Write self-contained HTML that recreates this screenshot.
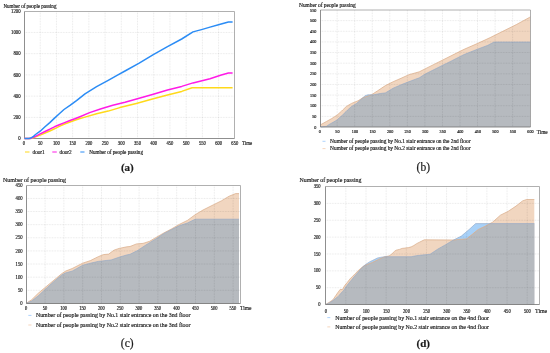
<!DOCTYPE html>
<html lang="en">
<head>
<meta charset="utf-8">
<title>Number of people passing</title>
<style>
html,body{margin:0;padding:0;background:#fff;}
body{width:550px;height:353px;overflow:hidden;}
svg{display:block;filter:blur(0.35px);font-family:"Liberation Serif",serif;fill:#1a1a1a;}
svg text{fill:#1a1a1a;stroke:#1a1a1a;stroke-width:0.18;}
.g{stroke:#000000;stroke-opacity:0.17;stroke-width:0.6;stroke-dasharray:0.8 0.8;}
</style>
</head>
<body>
<svg width="550" height="353" viewBox="0 0 550 353">
<rect width="550" height="353" fill="#ffffff"/>
<line x1="40.22" y1="11.5" x2="40.22" y2="138.5" class="g"/>
<line x1="56.43" y1="11.5" x2="56.43" y2="138.5" class="g"/>
<line x1="72.65" y1="11.5" x2="72.65" y2="138.5" class="g"/>
<line x1="88.86" y1="11.5" x2="88.86" y2="138.5" class="g"/>
<line x1="105.08" y1="11.5" x2="105.08" y2="138.5" class="g"/>
<line x1="121.29" y1="11.5" x2="121.29" y2="138.5" class="g"/>
<line x1="137.51" y1="11.5" x2="137.51" y2="138.5" class="g"/>
<line x1="153.72" y1="11.5" x2="153.72" y2="138.5" class="g"/>
<line x1="169.94" y1="11.5" x2="169.94" y2="138.5" class="g"/>
<line x1="186.15" y1="11.5" x2="186.15" y2="138.5" class="g"/>
<line x1="202.37" y1="11.5" x2="202.37" y2="138.5" class="g"/>
<line x1="218.58" y1="11.5" x2="218.58" y2="138.5" class="g"/>
<line x1="24.5" y1="117.37" x2="234.5" y2="117.37" class="g"/>
<line x1="24.5" y1="96.13" x2="234.5" y2="96.13" class="g"/>
<line x1="24.5" y1="74.90" x2="234.5" y2="74.90" class="g"/>
<line x1="24.5" y1="53.67" x2="234.5" y2="53.67" class="g"/>
<line x1="24.5" y1="32.43" x2="234.5" y2="32.43" class="g"/>
<path d="M24.5 11.5H234.5V138.5" fill="none" stroke="#9c9c9c" stroke-width="0.8"/><path d="M24.5 11.5V138.5H234.5" fill="none" stroke="#727272" stroke-width="0.8"/>
<polyline points="24.5,138.5 30.0,138.4 31.9,138.3 35.5,136.9 40.2,135.1 45.0,133.0 49.8,131.0 54.5,128.8 59.3,126.4 64.0,124.2 70.0,122.0 74.8,120.2 80.0,118.5 85.0,117.1 96.6,113.8 108.2,111.1 119.8,107.6 136.3,103.4 153.3,98.7 167.5,95.1 181.7,91.4 192.1,87.7 232.6,87.7" fill="none" stroke="#ffd91a" stroke-width="1.5" stroke-linejoin="round"/>
<polyline points="24.5,138.5 30.0,138.4 31.9,137.9 35.5,136.3 40.2,133.9 45.0,131.5 49.8,129.2 54.5,126.8 59.3,124.8 64.0,122.9 70.0,120.5 74.8,118.8 80.0,116.7 89.6,112.6 101.2,108.7 112.8,105.3 125.0,102.3 139.2,98.3 153.3,94.2 167.5,90.0 181.7,86.4 193.0,82.9 210.0,78.7 221.3,75.0 228.4,73.0 232.6,73.0" fill="none" stroke="#ff1ae6" stroke-width="1.5" stroke-linejoin="round"/>
<polyline points="24.5,138.5 29.0,138.4 30.7,138.1 33.1,136.7 35.5,134.5 40.2,131.2 45.0,126.8 49.8,122.6 54.5,118.1 59.3,113.7 64.0,109.5 70.0,105.4 76.5,100.6 85.0,93.8 96.6,86.7 108.2,80.4 117.5,75.1 125.0,71.0 139.2,63.1 153.3,54.6 167.5,46.6 181.7,39.0 193.0,31.9 201.5,29.6 210.0,27.1 218.5,24.8 228.4,22.0 232.6,22.0" fill="none" stroke="#2b8cf5" stroke-width="1.5" stroke-linejoin="round"/>
<text transform="translate(3.40 7.60) scale(0.88 1)" font-size="5.74" text-anchor="start" font-weight="normal" >Number of people passing</text>
<text transform="translate(20.60 140.30) scale(0.88 1)" font-size="5.45" text-anchor="end" font-weight="normal" >0</text>
<text transform="translate(20.60 119.07) scale(0.88 1)" font-size="5.45" text-anchor="end" font-weight="normal" >200</text>
<text transform="translate(20.60 97.83) scale(0.88 1)" font-size="5.45" text-anchor="end" font-weight="normal" >400</text>
<text transform="translate(20.60 76.60) scale(0.88 1)" font-size="5.45" text-anchor="end" font-weight="normal" >600</text>
<text transform="translate(20.60 55.37) scale(0.88 1)" font-size="5.45" text-anchor="end" font-weight="normal" >800</text>
<text transform="translate(20.60 34.13) scale(0.88 1)" font-size="5.45" text-anchor="end" font-weight="normal" >1000</text>
<text transform="translate(20.60 12.90) scale(0.88 1)" font-size="5.45" text-anchor="end" font-weight="normal" >1200</text>
<text transform="translate(24.00 145.40) scale(0.88 1)" font-size="5.23" text-anchor="middle" font-weight="normal" >0</text>
<text transform="translate(40.22 145.40) scale(0.88 1)" font-size="5.23" text-anchor="middle" font-weight="normal" >50</text>
<text transform="translate(56.43 145.40) scale(0.88 1)" font-size="5.23" text-anchor="middle" font-weight="normal" >100</text>
<text transform="translate(72.65 145.40) scale(0.88 1)" font-size="5.23" text-anchor="middle" font-weight="normal" >150</text>
<text transform="translate(88.86 145.40) scale(0.88 1)" font-size="5.23" text-anchor="middle" font-weight="normal" >200</text>
<text transform="translate(105.08 145.40) scale(0.88 1)" font-size="5.23" text-anchor="middle" font-weight="normal" >250</text>
<text transform="translate(121.29 145.40) scale(0.88 1)" font-size="5.23" text-anchor="middle" font-weight="normal" >300</text>
<text transform="translate(137.51 145.40) scale(0.88 1)" font-size="5.23" text-anchor="middle" font-weight="normal" >350</text>
<text transform="translate(153.72 145.40) scale(0.88 1)" font-size="5.23" text-anchor="middle" font-weight="normal" >400</text>
<text transform="translate(169.94 145.40) scale(0.88 1)" font-size="5.23" text-anchor="middle" font-weight="normal" >450</text>
<text transform="translate(186.15 145.40) scale(0.88 1)" font-size="5.23" text-anchor="middle" font-weight="normal" >500</text>
<text transform="translate(202.37 145.40) scale(0.88 1)" font-size="5.23" text-anchor="middle" font-weight="normal" >550</text>
<text transform="translate(218.58 145.40) scale(0.88 1)" font-size="5.23" text-anchor="middle" font-weight="normal" >600</text>
<text transform="translate(234.80 145.40) scale(0.88 1)" font-size="5.23" text-anchor="middle" font-weight="normal" >650</text>
<text transform="translate(242.00 145.30) scale(0.88 1)" font-size="5.57" text-anchor="start" font-weight="normal" >Time</text>
<line x1="25" y1="152" x2="29.5" y2="152" stroke="#ffd91a" stroke-width="1"/>
<text transform="translate(32.60 153.50) scale(0.88 1)" font-size="5.91" text-anchor="start" font-weight="normal" >door1</text>
<line x1="52.3" y1="152" x2="56.8" y2="152" stroke="#ff1ae6" stroke-width="1"/>
<text transform="translate(59.60 153.50) scale(0.88 1)" font-size="5.91" text-anchor="start" font-weight="normal" >door2</text>
<line x1="80.3" y1="152" x2="84.5" y2="152" stroke="#2b8cf5" stroke-width="1"/>
<text transform="translate(89.30 153.50) scale(0.88 1)" font-size="5.8" text-anchor="start" font-weight="normal" >Number of people passing</text>
<text x="127.30" y="171.20" font-size="11" text-anchor="middle" font-weight="bold" >(a)</text>
<polygon points="320.5,126.9 326.4,126.4 329.6,124.2 334.0,121.8 337.3,119.8 339.5,117.6 342.7,114.9 346.0,111.6 347.6,110.0 351.5,106.5 356.7,103.4 363.2,97.4 365.5,95.5 368.0,94.8 373.7,94.8 380.2,93.5 385.4,92.9 393.2,88.2 401.0,84.8 408.9,81.7 419.3,77.8 425.0,74.1 438.0,67.6 451.1,61.1 464.1,54.5 477.2,49.3 487.6,45.4 494.1,42.0 530.6,42.0 530.6,127.0 320.5,127.0" fill="#a8d1f8"/>
<polygon points="320.5,124.8 326.4,121.5 331.8,118.5 337.3,114.9 341.6,111.1 342.7,110.0 346.3,106.5 351.5,103.4 358.0,100.8 363.2,97.6 367.0,96.3 371.5,94.8 377.6,90.8 385.4,85.6 393.2,81.7 401.0,78.3 408.9,74.7 419.3,71.8 425.0,68.9 438.0,62.4 451.1,55.8 464.1,49.3 477.2,43.6 490.2,37.6 503.2,31.1 516.3,24.6 529.3,17.5 530.6,16.7 530.6,127.0 320.5,127.0" fill="#f1d6c0"/>
<polygon points="320.5,126.9 321.0,126.9 321.5,126.8 322.0,126.8 322.5,126.7 323.0,126.7 323.5,126.6 324.0,126.6 324.5,126.6 325.0,126.5 325.5,126.5 326.0,126.4 326.5,126.3 327.0,126.0 327.5,125.6 328.0,125.3 328.5,125.0 329.0,124.6 329.5,124.3 330.0,124.0 330.5,123.7 331.0,123.4 331.5,123.2 332.0,122.9 332.5,122.6 333.0,122.3 333.5,122.1 334.0,121.8 334.5,121.5 335.0,121.2 335.5,120.9 336.0,120.6 336.5,120.3 337.0,120.0 337.5,119.6 338.0,119.1 338.5,118.6 339.0,118.1 339.5,117.6 340.0,117.2 340.5,116.7 341.0,116.3 341.5,115.9 342.0,115.5 342.5,115.1 343.0,114.6 343.5,114.1 344.0,113.6 344.5,113.1 345.0,112.6 345.5,112.1 346.0,111.6 346.5,111.1 347.0,110.6 347.5,110.1 348.0,109.6 348.5,109.2 349.0,108.7 349.5,108.3 350.0,107.8 350.5,107.4 351.0,106.9 351.5,106.5 352.0,106.2 352.5,105.9 353.0,105.6 353.5,105.3 354.0,105.0 354.5,104.7 355.0,104.4 355.5,104.1 356.0,103.8 356.5,103.5 357.0,103.1 357.5,102.6 358.0,102.2 358.5,101.7 359.0,101.3 359.5,100.8 360.0,100.3 360.5,99.9 361.0,99.4 361.5,99.0 362.0,98.5 362.5,98.0 363.0,97.7 363.5,97.5 364.0,97.3 364.5,97.1 365.0,97.0 365.5,96.8 366.0,96.6 366.5,96.5 367.0,96.3 367.5,96.1 368.0,96.0 368.5,95.8 369.0,95.6 369.5,95.5 370.0,95.3 370.5,95.1 371.0,95.0 371.5,94.8 372.0,94.8 372.5,94.8 373.0,94.8 373.5,94.8 374.0,94.7 374.5,94.6 375.0,94.5 375.5,94.4 376.0,94.3 376.5,94.2 377.0,94.1 377.5,94.0 378.0,93.9 378.5,93.8 379.0,93.7 379.5,93.6 380.0,93.5 380.5,93.5 381.0,93.4 381.5,93.3 382.0,93.3 382.5,93.2 383.0,93.2 383.5,93.1 384.0,93.1 384.5,93.0 385.0,92.9 385.5,92.8 386.0,92.5 386.5,92.2 387.0,91.9 387.5,91.6 388.0,91.3 388.5,91.0 389.0,90.7 389.5,90.4 390.0,90.1 390.5,89.8 391.0,89.5 391.5,89.2 392.0,88.9 392.5,88.6 393.0,88.3 393.5,88.1 394.0,87.8 394.5,87.6 395.0,87.4 395.5,87.2 396.0,87.0 396.5,86.7 397.0,86.5 397.5,86.3 398.0,86.1 398.5,85.9 399.0,85.7 399.5,85.4 400.0,85.2 400.5,85.0 401.0,84.8 401.5,84.6 402.0,84.4 402.5,84.2 403.0,84.0 403.5,83.8 404.0,83.6 404.5,83.4 405.0,83.2 405.5,83.0 406.0,82.8 406.5,82.6 407.0,82.4 407.5,82.2 408.0,82.0 408.5,81.8 409.0,81.6 409.5,81.5 410.0,81.3 410.5,81.1 411.0,80.9 411.5,80.7 412.0,80.5 412.5,80.3 413.0,80.1 413.5,80.0 414.0,79.8 414.5,79.6 415.0,79.4 415.5,79.2 416.0,79.0 416.5,78.8 417.0,78.6 417.5,78.5 418.0,78.3 418.5,78.1 419.0,77.9 419.5,77.6 420.0,77.3 420.5,77.0 421.0,76.7 421.5,76.3 422.0,76.0 422.5,75.7 423.0,75.4 423.5,75.0 424.0,74.7 424.5,74.4 425.0,74.1 425.6,73.8 426.1,73.6 426.6,73.3 427.1,73.1 427.6,72.8 428.1,72.6 428.6,72.3 429.1,72.1 429.6,71.8 430.1,71.6 430.6,71.3 431.1,71.1 431.6,70.8 432.1,70.6 432.6,70.3 433.1,70.1 433.6,69.8 434.1,69.6 434.6,69.3 435.1,69.1 435.6,68.8 436.1,68.6 436.6,68.3 437.1,68.1 437.6,67.8 438.1,67.6 438.6,67.3 439.1,67.1 439.6,66.8 440.1,66.6 440.6,66.3 441.1,66.1 441.6,65.8 442.1,65.6 442.6,65.3 443.1,65.1 443.6,64.8 444.1,64.6 444.6,64.3 445.1,64.1 445.6,63.8 446.1,63.6 446.6,63.4 447.1,63.1 447.6,62.9 448.1,62.6 448.6,62.4 449.1,62.1 449.6,61.9 450.1,61.6 450.6,61.4 451.1,61.1 451.6,60.9 452.1,60.6 452.6,60.4 453.1,60.1 453.6,59.8 454.1,59.6 454.6,59.3 455.1,59.1 455.6,58.8 456.1,58.6 456.6,58.3 457.1,58.1 457.6,57.8 458.1,57.6 458.6,57.3 459.1,57.1 459.6,56.8 460.1,56.5 460.6,56.3 461.1,56.0 461.6,55.8 462.1,55.5 462.6,55.3 463.1,55.0 463.6,54.8 464.1,54.5 464.6,54.3 465.1,54.1 465.6,53.9 466.1,53.7 466.6,53.5 467.1,53.3 467.6,53.1 468.1,52.9 468.6,52.7 469.1,52.5 469.6,52.3 470.1,52.1 470.6,51.9 471.1,51.7 471.6,51.5 472.1,51.3 472.6,51.1 473.1,50.9 473.6,50.7 474.1,50.5 474.6,50.3 475.1,50.1 475.6,49.9 476.1,49.7 476.6,49.5 477.1,49.3 477.6,49.2 478.1,49.0 478.6,48.8 479.1,48.6 479.6,48.4 480.1,48.2 480.6,48.0 481.1,47.8 481.6,47.7 482.1,47.5 482.6,47.3 483.1,47.1 483.6,46.9 484.1,46.7 484.6,46.5 485.1,46.3 485.6,46.2 486.1,46.0 486.6,45.8 487.1,45.6 487.6,45.4 488.1,45.1 488.6,44.9 489.1,44.6 489.6,44.4 490.1,44.1 490.6,43.8 491.1,43.6 491.6,43.3 492.1,43.1 492.6,42.8 493.1,42.5 493.6,42.3 494.1,42.0 494.6,42.0 495.1,42.0 495.6,42.0 496.1,42.0 496.6,42.0 497.1,42.0 497.6,42.0 498.1,42.0 498.6,42.0 499.1,42.0 499.6,42.0 500.1,42.0 500.6,42.0 501.1,42.0 501.6,42.0 502.1,42.0 502.6,42.0 503.1,42.0 503.6,42.0 504.1,42.0 504.6,42.0 505.1,42.0 505.6,42.0 506.1,42.0 506.6,42.0 507.1,42.0 507.6,42.0 508.1,42.0 508.6,42.0 509.1,42.0 509.6,42.0 510.1,42.0 510.6,42.0 511.1,42.0 511.6,42.0 512.1,42.0 512.6,42.0 513.1,42.0 513.6,42.0 514.1,42.0 514.6,42.0 515.1,42.0 515.6,42.0 516.1,42.0 516.6,42.0 517.1,42.0 517.6,42.0 518.1,42.0 518.6,42.0 519.1,42.0 519.6,42.0 520.1,42.0 520.6,42.0 521.1,42.0 521.6,42.0 522.1,42.0 522.6,42.0 523.1,42.0 523.6,42.0 524.1,42.0 524.6,42.0 525.1,42.0 525.6,42.0 526.1,42.0 526.6,42.0 527.1,42.0 527.6,42.0 528.1,42.0 528.6,42.0 529.1,42.0 529.6,42.0 530.1,42.0 530.6,42.0 530.6,127.0 320.5,127.0" fill="#b6babf"/>
<line x1="337.15" y1="10.0" x2="337.15" y2="127.0" class="g"/>
<line x1="354.70" y1="10.0" x2="354.70" y2="127.0" class="g"/>
<line x1="372.25" y1="10.0" x2="372.25" y2="127.0" class="g"/>
<line x1="389.80" y1="10.0" x2="389.80" y2="127.0" class="g"/>
<line x1="407.35" y1="10.0" x2="407.35" y2="127.0" class="g"/>
<line x1="424.90" y1="10.0" x2="424.90" y2="127.0" class="g"/>
<line x1="442.45" y1="10.0" x2="442.45" y2="127.0" class="g"/>
<line x1="460.00" y1="10.0" x2="460.00" y2="127.0" class="g"/>
<line x1="477.55" y1="10.0" x2="477.55" y2="127.0" class="g"/>
<line x1="495.10" y1="10.0" x2="495.10" y2="127.0" class="g"/>
<line x1="512.65" y1="10.0" x2="512.65" y2="127.0" class="g"/>
<line x1="320.5" y1="116.36" x2="530.5" y2="116.36" class="g"/>
<line x1="320.5" y1="105.73" x2="530.5" y2="105.73" class="g"/>
<line x1="320.5" y1="95.09" x2="530.5" y2="95.09" class="g"/>
<line x1="320.5" y1="84.45" x2="530.5" y2="84.45" class="g"/>
<line x1="320.5" y1="73.82" x2="530.5" y2="73.82" class="g"/>
<line x1="320.5" y1="63.18" x2="530.5" y2="63.18" class="g"/>
<line x1="320.5" y1="52.55" x2="530.5" y2="52.55" class="g"/>
<line x1="320.5" y1="41.91" x2="530.5" y2="41.91" class="g"/>
<line x1="320.5" y1="31.27" x2="530.5" y2="31.27" class="g"/>
<line x1="320.5" y1="20.64" x2="530.5" y2="20.64" class="g"/>
<polyline points="320.5,124.8 326.4,121.5 331.8,118.5 337.3,114.9 341.6,111.1 342.7,110.0 346.3,106.5 351.5,103.4 358.0,100.8 363.2,97.6 367.0,96.3 371.5,94.8 377.6,90.8 385.4,85.6 393.2,81.7 401.0,78.3 408.9,74.7 419.3,71.8 425.0,68.9 438.0,62.4 451.1,55.8 464.1,49.3 477.2,43.6 490.2,37.6 503.2,31.1 516.3,24.6 529.3,17.5 530.6,16.7" fill="none" stroke="#d8aa86" stroke-width="0.7"/>
<polyline points="320.5,126.9 326.4,126.4 329.6,124.2 334.0,121.8 337.3,119.8 339.5,117.6 342.7,114.9 346.0,111.6 347.6,110.0 351.5,106.5 356.7,103.4 363.2,97.4 365.5,95.5 368.0,94.8 373.7,94.8 380.2,93.5 385.4,92.9 393.2,88.2 401.0,84.8 408.9,81.7 419.3,77.8 425.0,74.1 438.0,67.6 451.1,61.1 464.1,54.5 477.2,49.3 487.6,45.4 494.1,42.0 530.6,42.0" fill="none" stroke="#8fa6c6" stroke-width="0.6"/>
<path d="M320.5 10.0H530.5V127.0" fill="none" stroke="#9c9c9c" stroke-width="0.8"/><path d="M320.5 10.0V127.0H530.5" fill="none" stroke="#727272" stroke-width="0.8"/>
<text transform="translate(299.00 6.60) scale(0.88 1)" font-size="6.14" text-anchor="start" font-weight="normal" >Number of people passing</text>
<text transform="translate(316.40 128.50) scale(0.88 1)" font-size="4.77" text-anchor="end" font-weight="normal" >0</text>
<text transform="translate(316.40 117.86) scale(0.88 1)" font-size="4.77" text-anchor="end" font-weight="normal" >50</text>
<text transform="translate(316.40 107.23) scale(0.88 1)" font-size="4.77" text-anchor="end" font-weight="normal" >100</text>
<text transform="translate(316.40 96.59) scale(0.88 1)" font-size="4.77" text-anchor="end" font-weight="normal" >150</text>
<text transform="translate(316.40 85.95) scale(0.88 1)" font-size="4.77" text-anchor="end" font-weight="normal" >200</text>
<text transform="translate(316.40 75.32) scale(0.88 1)" font-size="4.77" text-anchor="end" font-weight="normal" >250</text>
<text transform="translate(316.40 64.68) scale(0.88 1)" font-size="4.77" text-anchor="end" font-weight="normal" >300</text>
<text transform="translate(316.40 54.05) scale(0.88 1)" font-size="4.77" text-anchor="end" font-weight="normal" >350</text>
<text transform="translate(316.40 43.41) scale(0.88 1)" font-size="4.77" text-anchor="end" font-weight="normal" >400</text>
<text transform="translate(316.40 32.77) scale(0.88 1)" font-size="4.77" text-anchor="end" font-weight="normal" >450</text>
<text transform="translate(316.40 22.14) scale(0.88 1)" font-size="4.77" text-anchor="end" font-weight="normal" >500</text>
<text transform="translate(316.40 11.50) scale(0.88 1)" font-size="4.77" text-anchor="end" font-weight="normal" >550</text>
<text transform="translate(319.90 133.40) scale(0.88 1)" font-size="4.77" text-anchor="middle" font-weight="normal" >0</text>
<text transform="translate(337.45 133.40) scale(0.88 1)" font-size="4.77" text-anchor="middle" font-weight="normal" >50</text>
<text transform="translate(355.00 133.40) scale(0.88 1)" font-size="4.77" text-anchor="middle" font-weight="normal" >100</text>
<text transform="translate(372.55 133.40) scale(0.88 1)" font-size="4.77" text-anchor="middle" font-weight="normal" >150</text>
<text transform="translate(390.10 133.40) scale(0.88 1)" font-size="4.77" text-anchor="middle" font-weight="normal" >200</text>
<text transform="translate(407.65 133.40) scale(0.88 1)" font-size="4.77" text-anchor="middle" font-weight="normal" >250</text>
<text transform="translate(425.20 133.40) scale(0.88 1)" font-size="4.77" text-anchor="middle" font-weight="normal" >300</text>
<text transform="translate(442.75 133.40) scale(0.88 1)" font-size="4.77" text-anchor="middle" font-weight="normal" >350</text>
<text transform="translate(460.30 133.40) scale(0.88 1)" font-size="4.77" text-anchor="middle" font-weight="normal" >400</text>
<text transform="translate(477.85 133.40) scale(0.88 1)" font-size="4.77" text-anchor="middle" font-weight="normal" >450</text>
<text transform="translate(495.40 133.40) scale(0.88 1)" font-size="4.77" text-anchor="middle" font-weight="normal" >500</text>
<text transform="translate(512.95 133.40) scale(0.88 1)" font-size="4.77" text-anchor="middle" font-weight="normal" >550</text>
<text transform="translate(530.50 133.40) scale(0.88 1)" font-size="4.77" text-anchor="middle" font-weight="normal" >600</text>
<text transform="translate(536.70 133.60) scale(0.88 1)" font-size="6.02" text-anchor="start" font-weight="normal" >Time</text>
<line x1="322.5" y1="141.3" x2="325.5" y2="141.3" stroke="#8cc0fa" stroke-width="0.7"/>
<text transform="translate(330.10 143.00) scale(0.88 1)" font-size="6.08" text-anchor="start" font-weight="normal" >Number of people passing by No.1 stair entrance on the 2nd floor</text>
<line x1="322.5" y1="148.6" x2="325.5" y2="148.6" stroke="#f2c4a2" stroke-width="0.7"/>
<text transform="translate(330.10 150.30) scale(0.88 1)" font-size="6.08" text-anchor="start" font-weight="normal" >Number of people passing by No.2 stair entrance on the 2nd floor</text>
<text x="423.30" y="171.20" font-size="11.5" text-anchor="middle" font-weight="normal" >(b)</text>
<polygon points="26.5,303.2 31.7,301.0 38.3,295.8 46.1,288.5 53.9,281.5 61.7,275.0 65.6,272.9 72.2,271.1 82.6,265.3 90.4,263.2 98.2,261.4 111.3,259.9 119.1,257.2 126.9,254.9 130.0,254.3 137.8,250.4 145.6,245.2 156.1,238.7 163.9,233.5 171.7,229.5 179.5,225.6 187.4,223.0 195.2,219.2 239.0,219.2 239.0,303.5 26.5,303.5" fill="#a8d1f8"/>
<polygon points="26.5,303.1 31.7,299.7 38.3,293.2 46.1,286.7 53.9,280.2 61.7,273.7 65.6,271.1 72.2,268.5 82.6,263.2 90.4,260.6 98.2,256.7 103.4,254.6 108.7,254.1 113.9,250.2 119.1,248.4 126.9,246.8 130.0,246.5 136.5,243.9 143.0,243.4 149.6,241.3 156.1,237.4 163.9,232.9 171.7,228.8 179.5,224.3 187.4,220.4 195.2,214.7 203.0,210.0 213.4,204.8 221.3,200.9 229.1,196.2 235.6,193.6 239.0,193.6 239.0,303.5 26.5,303.5" fill="#f1d6c0"/>
<polygon points="26.5,303.2 27.0,303.0 27.5,302.8 28.0,302.6 28.5,302.4 29.0,302.1 29.5,301.9 30.0,301.7 30.5,301.5 31.0,301.3 31.5,301.1 32.0,300.8 32.5,300.4 33.0,300.0 33.5,299.6 34.0,299.2 34.5,298.8 35.0,298.4 35.5,298.0 36.0,297.6 36.5,297.2 37.0,296.8 37.5,296.4 38.0,296.0 38.5,295.6 39.0,295.1 39.5,294.7 40.0,294.2 40.5,293.7 41.0,293.3 41.5,292.8 42.0,292.3 42.5,291.9 43.0,291.4 43.5,290.9 44.0,290.5 44.5,290.0 45.0,289.5 45.5,289.1 46.0,288.6 46.5,288.1 47.0,287.7 47.5,287.2 48.0,286.8 48.5,286.3 49.0,285.9 49.5,285.4 50.0,285.0 50.5,284.6 51.0,284.1 51.5,283.7 52.0,283.2 52.5,282.8 53.0,282.3 53.5,281.9 54.0,281.4 54.5,281.0 55.0,280.6 55.5,280.2 56.0,279.8 56.5,279.3 57.0,278.9 57.5,278.5 58.0,278.1 58.5,277.7 59.0,277.2 59.5,276.8 60.0,276.4 60.5,276.0 61.0,275.6 61.5,275.2 62.0,274.8 62.5,274.6 63.0,274.3 63.5,274.0 64.0,273.8 64.5,273.5 65.0,273.2 65.5,273.0 66.0,272.8 66.5,272.7 67.0,272.5 67.5,272.4 68.0,272.2 68.5,272.1 69.0,272.0 69.5,271.8 70.0,271.7 70.5,271.6 71.0,271.4 71.5,271.3 72.0,271.2 72.5,270.9 73.0,270.7 73.5,270.4 74.0,270.1 74.5,269.8 75.0,269.5 75.5,269.3 76.0,269.0 76.5,268.7 77.0,268.4 77.5,268.1 78.0,267.9 78.5,267.6 79.0,267.3 79.5,267.0 80.0,266.8 80.5,266.5 81.0,266.2 81.5,265.9 82.0,265.6 82.5,265.4 83.0,265.2 83.5,265.1 84.0,264.9 84.5,264.8 85.0,264.7 85.5,264.5 86.0,264.4 86.5,264.2 87.0,264.1 87.5,264.0 88.0,263.8 88.5,263.7 89.0,263.6 89.5,263.4 90.0,263.3 90.5,263.2 91.0,263.1 91.5,262.9 92.0,262.8 92.5,262.7 93.0,262.6 93.5,262.5 94.0,262.4 94.5,262.3 95.0,262.1 95.5,262.0 96.0,261.9 96.5,261.8 97.0,261.7 97.5,261.6 98.0,261.4 98.5,261.4 99.0,261.3 99.5,261.3 100.0,261.2 100.5,261.1 101.0,261.1 101.5,261.0 102.0,261.0 102.5,260.9 103.0,260.9 103.5,260.8 104.0,260.7 104.5,260.7 105.0,260.6 105.5,260.6 106.0,260.5 106.5,260.4 107.0,260.4 107.5,260.3 108.0,260.3 108.5,260.2 109.0,260.2 109.5,260.1 110.0,260.0 110.5,260.0 111.0,259.9 111.5,259.8 112.0,259.7 112.5,259.5 113.0,259.3 113.5,259.1 114.0,259.0 114.5,258.8 115.0,258.6 115.5,258.4 116.0,258.3 116.5,258.1 117.0,257.9 117.5,257.8 118.0,257.6 118.5,257.4 119.0,257.2 119.5,257.1 120.0,256.9 120.5,256.8 121.0,256.6 121.5,256.5 122.0,256.3 122.5,256.2 123.0,256.1 123.5,255.9 124.0,255.8 124.5,255.6 125.0,255.5 125.5,255.3 126.0,255.2 126.5,255.0 127.0,254.9 127.5,254.8 128.0,254.7 128.5,254.6 129.0,254.5 129.5,254.4 130.0,254.3 130.5,254.1 131.0,253.8 131.5,253.6 132.0,253.3 132.5,253.1 133.0,252.8 133.5,252.6 134.0,252.3 134.5,252.1 135.0,251.8 135.5,251.6 136.0,251.3 136.5,251.1 137.0,250.8 137.5,250.6 138.0,250.3 138.5,249.9 139.0,249.6 139.5,249.3 140.0,248.9 140.5,248.6 141.0,248.3 141.5,247.9 142.0,247.6 142.5,247.3 143.0,246.9 143.5,246.6 144.0,246.3 144.5,245.9 145.0,245.6 145.5,245.3 146.0,245.0 146.5,244.6 147.0,244.3 147.5,244.0 148.0,243.7 148.5,243.4 149.0,243.1 149.5,242.8 150.0,242.5 150.5,242.2 151.0,241.9 151.5,241.5 152.0,241.2 152.5,240.9 153.0,240.6 153.5,240.3 154.0,240.0 154.5,239.7 155.0,239.4 155.5,239.1 156.0,238.8 156.5,238.4 157.0,238.1 157.5,237.8 158.0,237.4 158.5,237.1 159.0,236.8 159.5,236.4 160.0,236.1 160.5,235.8 161.0,235.4 161.5,235.1 162.0,234.8 162.5,234.4 163.0,234.1 163.5,233.8 164.0,233.4 164.5,233.2 165.0,232.9 165.5,232.7 166.0,232.4 166.5,232.2 167.0,231.9 167.5,231.7 168.0,231.4 168.5,231.1 169.0,230.9 169.5,230.6 170.0,230.4 170.5,230.1 171.0,229.9 171.5,229.6 172.0,229.3 172.5,229.1 173.0,228.8 173.5,228.6 174.0,228.3 174.5,228.1 175.0,227.8 175.5,227.6 176.0,227.3 176.5,227.1 177.0,226.8 177.5,226.6 178.0,226.3 178.5,226.1 179.0,225.8 179.5,225.6 180.0,225.4 180.5,225.3 181.0,225.1 181.5,224.9 182.0,224.8 182.5,224.6 183.0,224.4 183.5,224.3 184.0,224.1 184.5,224.0 185.0,223.8 185.5,223.6 186.0,223.5 186.5,223.3 187.0,223.1 187.5,223.0 188.0,222.7 188.5,222.5 189.0,222.2 189.5,222.0 190.0,221.7 190.5,221.5 191.0,221.2 191.5,221.0 192.0,220.8 192.5,220.5 193.0,220.3 193.5,220.0 194.0,219.8 194.5,219.5 195.0,219.3 195.5,219.2 196.0,219.2 196.5,219.2 197.0,219.2 197.5,219.2 198.0,219.2 198.5,219.2 199.0,219.2 199.5,219.2 200.0,219.2 200.5,219.2 201.0,219.2 201.5,219.2 202.0,219.2 202.5,219.2 203.0,219.2 203.5,219.2 204.0,219.2 204.5,219.2 205.0,219.2 205.5,219.2 206.0,219.2 206.5,219.2 207.0,219.2 207.5,219.2 208.0,219.2 208.5,219.2 209.0,219.2 209.5,219.2 210.0,219.2 210.5,219.2 211.0,219.2 211.5,219.2 212.0,219.2 212.5,219.2 213.0,219.2 213.5,219.2 214.0,219.2 214.5,219.2 215.0,219.2 215.5,219.2 216.0,219.2 216.5,219.2 217.0,219.2 217.5,219.2 218.0,219.2 218.5,219.2 219.0,219.2 219.5,219.2 220.0,219.2 220.5,219.2 221.0,219.2 221.5,219.2 222.0,219.2 222.5,219.2 223.0,219.2 223.5,219.2 224.0,219.2 224.5,219.2 225.0,219.2 225.5,219.2 226.0,219.2 226.5,219.2 227.0,219.2 227.5,219.2 228.0,219.2 228.5,219.2 229.0,219.2 229.5,219.2 230.0,219.2 230.5,219.2 231.0,219.2 231.5,219.2 232.0,219.2 232.5,219.2 233.0,219.2 233.5,219.2 234.0,219.2 234.5,219.2 235.0,219.2 235.5,219.2 236.0,219.2 236.5,219.2 237.0,219.2 237.5,219.2 238.0,219.2 238.5,219.2 239.0,219.2 239.0,303.5 26.5,303.5" fill="#b6babf"/>
<line x1="45.10" y1="185.5" x2="45.10" y2="303.5" class="g"/>
<line x1="63.90" y1="185.5" x2="63.90" y2="303.5" class="g"/>
<line x1="82.70" y1="185.5" x2="82.70" y2="303.5" class="g"/>
<line x1="101.50" y1="185.5" x2="101.50" y2="303.5" class="g"/>
<line x1="120.30" y1="185.5" x2="120.30" y2="303.5" class="g"/>
<line x1="139.10" y1="185.5" x2="139.10" y2="303.5" class="g"/>
<line x1="157.90" y1="185.5" x2="157.90" y2="303.5" class="g"/>
<line x1="176.70" y1="185.5" x2="176.70" y2="303.5" class="g"/>
<line x1="195.50" y1="185.5" x2="195.50" y2="303.5" class="g"/>
<line x1="214.30" y1="185.5" x2="214.30" y2="303.5" class="g"/>
<line x1="233.10" y1="185.5" x2="233.10" y2="303.5" class="g"/>
<line x1="26.5" y1="290.28" x2="240.5" y2="290.28" class="g"/>
<line x1="26.5" y1="277.16" x2="240.5" y2="277.16" class="g"/>
<line x1="26.5" y1="264.03" x2="240.5" y2="264.03" class="g"/>
<line x1="26.5" y1="250.91" x2="240.5" y2="250.91" class="g"/>
<line x1="26.5" y1="237.79" x2="240.5" y2="237.79" class="g"/>
<line x1="26.5" y1="224.67" x2="240.5" y2="224.67" class="g"/>
<line x1="26.5" y1="211.54" x2="240.5" y2="211.54" class="g"/>
<line x1="26.5" y1="198.42" x2="240.5" y2="198.42" class="g"/>
<polyline points="26.5,303.1 31.7,299.7 38.3,293.2 46.1,286.7 53.9,280.2 61.7,273.7 65.6,271.1 72.2,268.5 82.6,263.2 90.4,260.6 98.2,256.7 103.4,254.6 108.7,254.1 113.9,250.2 119.1,248.4 126.9,246.8 130.0,246.5 136.5,243.9 143.0,243.4 149.6,241.3 156.1,237.4 163.9,232.9 171.7,228.8 179.5,224.3 187.4,220.4 195.2,214.7 203.0,210.0 213.4,204.8 221.3,200.9 229.1,196.2 235.6,193.6 239.0,193.6" fill="none" stroke="#d8aa86" stroke-width="0.7"/>
<polyline points="26.5,303.2 31.7,301.0 38.3,295.8 46.1,288.5 53.9,281.5 61.7,275.0 65.6,272.9 72.2,271.1 82.6,265.3 90.4,263.2 98.2,261.4 111.3,259.9 119.1,257.2 126.9,254.9 130.0,254.3 137.8,250.4 145.6,245.2 156.1,238.7 163.9,233.5 171.7,229.5 179.5,225.6 187.4,223.0 195.2,219.2 239.0,219.2" fill="none" stroke="#8fa6c6" stroke-width="0.6"/>
<path d="M26.5 185.5H240.5V303.5" fill="none" stroke="#9c9c9c" stroke-width="0.8"/><path d="M26.5 185.5V303.5H240.5" fill="none" stroke="#727272" stroke-width="0.8"/>
<text transform="translate(3.00 182.20) scale(0.88 1)" font-size="6.82" text-anchor="start" font-weight="normal" >Number of people passing</text>
<text transform="translate(22.60 305.00) scale(0.88 1)" font-size="5.34" text-anchor="end" font-weight="normal" >0</text>
<text transform="translate(22.60 291.88) scale(0.88 1)" font-size="5.34" text-anchor="end" font-weight="normal" >50</text>
<text transform="translate(22.60 278.76) scale(0.88 1)" font-size="5.34" text-anchor="end" font-weight="normal" >100</text>
<text transform="translate(22.60 265.63) scale(0.88 1)" font-size="5.34" text-anchor="end" font-weight="normal" >150</text>
<text transform="translate(22.60 252.51) scale(0.88 1)" font-size="5.34" text-anchor="end" font-weight="normal" >200</text>
<text transform="translate(22.60 239.39) scale(0.88 1)" font-size="5.34" text-anchor="end" font-weight="normal" >250</text>
<text transform="translate(22.60 226.27) scale(0.88 1)" font-size="5.34" text-anchor="end" font-weight="normal" >300</text>
<text transform="translate(22.60 213.14) scale(0.88 1)" font-size="5.34" text-anchor="end" font-weight="normal" >350</text>
<text transform="translate(22.60 200.02) scale(0.88 1)" font-size="5.34" text-anchor="end" font-weight="normal" >400</text>
<text transform="translate(22.60 186.90) scale(0.88 1)" font-size="5.34" text-anchor="end" font-weight="normal" >450</text>
<text transform="translate(26.10 309.80) scale(0.88 1)" font-size="5.11" text-anchor="middle" font-weight="normal" >0</text>
<text transform="translate(44.90 309.80) scale(0.88 1)" font-size="5.11" text-anchor="middle" font-weight="normal" >50</text>
<text transform="translate(63.70 309.80) scale(0.88 1)" font-size="5.11" text-anchor="middle" font-weight="normal" >100</text>
<text transform="translate(82.50 309.80) scale(0.88 1)" font-size="5.11" text-anchor="middle" font-weight="normal" >150</text>
<text transform="translate(101.30 309.80) scale(0.88 1)" font-size="5.11" text-anchor="middle" font-weight="normal" >200</text>
<text transform="translate(120.10 309.80) scale(0.88 1)" font-size="5.11" text-anchor="middle" font-weight="normal" >250</text>
<text transform="translate(138.90 309.80) scale(0.88 1)" font-size="5.11" text-anchor="middle" font-weight="normal" >300</text>
<text transform="translate(157.70 309.80) scale(0.88 1)" font-size="5.11" text-anchor="middle" font-weight="normal" >350</text>
<text transform="translate(176.50 309.80) scale(0.88 1)" font-size="5.11" text-anchor="middle" font-weight="normal" >400</text>
<text transform="translate(195.30 309.80) scale(0.88 1)" font-size="5.11" text-anchor="middle" font-weight="normal" >450</text>
<text transform="translate(214.10 309.80) scale(0.88 1)" font-size="5.11" text-anchor="middle" font-weight="normal" >500</text>
<text transform="translate(232.90 309.80) scale(0.88 1)" font-size="5.11" text-anchor="middle" font-weight="normal" >550</text>
<text transform="translate(240.00 309.60) scale(0.88 1)" font-size="6.25" text-anchor="start" font-weight="normal" >Time</text>
<line x1="28.3" y1="315.4" x2="31.5" y2="315.4" stroke="#8cc0fa" stroke-width="0.7"/>
<text transform="translate(35.90 317.10) scale(0.88 1)" font-size="6.7" text-anchor="start" font-weight="normal" >Number of people passing by No.1 stair entrance on the 3nd floor</text>
<line x1="28.3" y1="325" x2="31.5" y2="325" stroke="#f2c4a2" stroke-width="0.7"/>
<text transform="translate(35.90 326.80) scale(0.88 1)" font-size="6.7" text-anchor="start" font-weight="normal" >Number of people passing by No.2 stair entrance on the 3nd floor</text>
<text x="127.20" y="347.00" font-size="11.5" text-anchor="middle" font-weight="normal" >(c)</text>
<polygon points="325.7,304.4 329.1,303.1 333.0,300.5 335.6,298.4 338.3,296.4 340.9,293.2 343.5,290.6 346.1,286.7 348.7,283.3 351.3,280.2 355.2,275.5 359.1,271.1 363.0,266.6 365.6,264.5 369.5,261.9 372.2,260.6 374.8,259.3 377.4,258.0 381.3,257.2 385.2,256.7 411.3,256.7 415.2,255.9 419.1,255.4 423.0,254.9 426.9,254.6 430.0,254.3 437.8,249.1 445.6,244.7 453.5,240.0 461.3,236.1 469.1,229.5 475.6,223.6 534.3,223.6 534.3,304.5 325.7,304.5" fill="#a8d1f8"/>
<polygon points="325.7,304.4 329.1,302.4 333.0,299.7 335.6,295.8 338.3,291.9 340.3,289.3 342.4,289.6 344.8,285.4 347.4,282.3 350.0,278.9 352.6,276.3 355.2,273.7 359.1,269.8 363.0,266.6 365.6,265.1 369.5,263.5 372.2,262.5 376.1,260.6 378.7,259.3 382.6,257.5 385.2,256.7 389.1,255.9 391.7,254.1 394.3,251.5 396.1,250.2 399.5,249.4 402.1,248.4 404.7,248.1 408.7,247.6 411.3,246.8 413.9,245.5 416.5,243.7 419.1,242.4 421.7,241.1 424.3,239.8 454.8,240.0 457.4,239.5 466.5,238.9 471.7,234.8 478.2,229.5 484.8,226.4 492.6,222.2 500.4,215.2 508.2,211.3 516.0,206.1 522.6,200.9 526.5,199.5 534.3,199.5 534.3,304.5 325.7,304.5" fill="#f1d6c0"/>
<polygon points="325.7,304.4 326.2,304.2 326.7,304.0 327.2,303.8 327.7,303.6 328.2,303.4 328.7,303.3 329.2,303.0 329.7,302.7 330.2,302.4 330.7,302.0 331.2,301.7 331.7,301.4 332.2,301.0 332.7,300.7 333.2,300.3 333.7,299.9 334.2,299.5 334.7,299.1 335.2,298.7 335.7,298.3 336.2,298.0 336.7,297.6 337.2,297.2 337.7,296.8 338.2,296.5 338.7,295.9 339.2,295.3 339.7,294.7 340.2,294.1 340.7,293.4 341.2,292.9 341.7,292.4 342.2,291.9 342.7,291.4 343.2,290.9 343.7,290.3 344.2,289.5 344.7,288.8 345.2,288.0 345.7,287.3 346.2,286.6 346.7,285.9 347.2,285.2 347.7,284.6 348.2,283.9 348.7,283.3 349.2,282.7 349.7,282.1 350.2,281.5 350.7,280.9 351.2,280.3 351.7,279.7 352.2,279.1 352.7,278.5 353.2,277.9 353.7,277.3 354.2,276.7 354.7,276.1 355.2,275.5 355.7,274.9 356.2,274.4 356.7,273.8 357.2,273.2 357.7,272.7 358.2,272.1 358.7,271.5 359.2,271.0 359.7,270.4 360.2,269.8 360.7,269.2 361.2,268.7 361.7,268.1 362.2,267.5 362.7,266.9 363.2,266.5 363.7,266.2 364.2,265.9 364.7,265.6 365.2,265.3 365.7,265.1 366.2,264.8 366.7,264.6 367.2,264.4 367.7,264.2 368.2,264.0 368.7,263.8 369.2,263.6 369.7,263.4 370.2,263.2 370.7,263.0 371.2,262.9 371.7,262.7 372.2,262.5 372.7,262.2 373.2,262.0 373.7,261.8 374.2,261.5 374.7,261.3 375.2,261.0 375.7,260.8 376.2,260.5 376.7,260.3 377.2,260.0 377.7,259.8 378.2,259.5 378.7,259.3 379.2,259.1 379.7,258.8 380.2,258.6 380.7,258.4 381.2,258.1 381.7,257.9 382.2,257.7 382.7,257.5 383.2,257.3 383.7,257.2 384.2,257.0 384.7,256.8 385.2,256.7 385.7,256.7 386.2,256.7 386.7,256.7 387.2,256.7 387.7,256.7 388.2,256.7 388.7,256.7 389.2,256.7 389.7,256.7 390.2,256.7 390.7,256.7 391.2,256.7 391.7,256.7 392.2,256.7 392.7,256.7 393.2,256.7 393.7,256.7 394.2,256.7 394.7,256.7 395.2,256.7 395.7,256.7 396.2,256.7 396.7,256.7 397.2,256.7 397.7,256.7 398.2,256.7 398.7,256.7 399.2,256.7 399.7,256.7 400.2,256.7 400.7,256.7 401.2,256.7 401.7,256.7 402.2,256.7 402.7,256.7 403.2,256.7 403.7,256.7 404.2,256.7 404.7,256.7 405.2,256.7 405.7,256.7 406.2,256.7 406.7,256.7 407.2,256.7 407.7,256.7 408.2,256.7 408.7,256.7 409.2,256.7 409.7,256.7 410.2,256.7 410.7,256.7 411.2,256.7 411.7,256.6 412.2,256.5 412.7,256.4 413.2,256.3 413.7,256.2 414.2,256.1 414.7,256.0 415.2,255.9 415.7,255.8 416.2,255.8 416.7,255.7 417.2,255.6 417.7,255.6 418.2,255.5 418.7,255.4 419.2,255.4 419.7,255.3 420.2,255.3 420.7,255.2 421.2,255.1 421.7,255.1 422.2,255.0 422.7,254.9 423.2,254.9 423.7,254.8 424.2,254.8 424.7,254.8 425.2,254.7 425.7,254.7 426.2,254.7 426.7,254.6 427.2,254.6 427.7,254.5 428.2,254.5 428.7,254.4 429.2,254.4 429.7,254.3 430.3,254.1 430.8,253.8 431.3,253.5 431.8,253.1 432.3,252.8 432.8,252.5 433.3,252.1 433.8,251.8 434.3,251.5 434.8,251.1 435.3,250.8 435.8,250.5 436.3,250.1 436.8,249.8 437.3,249.5 437.8,249.1 438.3,248.8 438.8,248.6 439.3,248.3 439.8,248.0 440.3,247.7 440.8,247.4 441.3,247.2 441.8,246.9 442.3,246.6 442.8,246.3 443.3,246.0 443.8,245.7 444.3,245.5 444.8,245.2 445.3,244.9 445.8,244.6 446.3,244.3 446.8,244.0 447.3,243.7 447.8,243.4 448.3,243.1 448.8,242.8 449.3,242.5 449.8,242.2 450.3,241.9 450.8,241.6 451.3,241.3 451.8,241.0 452.3,240.7 452.8,240.4 453.3,240.1 453.8,240.0 454.3,240.0 454.8,240.0 455.3,239.9 455.8,239.8 456.3,239.7 456.8,239.6 457.3,239.5 457.8,239.5 458.3,239.4 458.8,239.4 459.3,239.4 459.8,239.3 460.3,239.3 460.8,239.3 461.3,239.2 461.8,239.2 462.3,239.2 462.8,239.1 463.3,239.1 463.8,239.1 464.3,239.0 464.8,239.0 465.3,239.0 465.8,238.9 466.3,238.9 466.8,238.7 467.3,238.3 467.8,237.9 468.3,237.5 468.8,237.1 469.3,236.7 469.8,236.3 470.3,235.9 470.8,235.5 471.3,235.1 471.8,234.7 472.3,234.3 472.8,233.9 473.3,233.5 473.8,233.1 474.3,232.7 474.8,232.3 475.3,231.9 475.8,231.5 476.3,231.1 476.8,230.7 477.3,230.3 477.8,229.8 478.3,229.5 478.8,229.2 479.3,229.0 479.8,228.8 480.3,228.5 480.8,228.3 481.3,228.1 481.8,227.8 482.3,227.6 482.8,227.4 483.3,227.1 483.8,226.9 484.3,226.6 484.8,226.4 485.3,226.1 485.8,225.9 486.3,225.6 486.8,225.3 487.3,225.1 487.8,224.8 488.3,224.5 488.8,224.3 489.3,224.0 489.8,223.7 490.3,223.6 490.8,223.6 491.3,223.6 491.8,223.6 492.3,223.6 492.8,223.6 493.3,223.6 493.8,223.6 494.3,223.6 494.8,223.6 495.3,223.6 495.8,223.6 496.3,223.6 496.8,223.6 497.3,223.6 497.8,223.6 498.3,223.6 498.8,223.6 499.3,223.6 499.8,223.6 500.3,223.6 500.8,223.6 501.3,223.6 501.8,223.6 502.3,223.6 502.8,223.6 503.3,223.6 503.8,223.6 504.3,223.6 504.8,223.6 505.3,223.6 505.8,223.6 506.3,223.6 506.8,223.6 507.3,223.6 507.8,223.6 508.3,223.6 508.8,223.6 509.3,223.6 509.8,223.6 510.3,223.6 510.8,223.6 511.3,223.6 511.8,223.6 512.3,223.6 512.8,223.6 513.3,223.6 513.8,223.6 514.3,223.6 514.8,223.6 515.3,223.6 515.8,223.6 516.3,223.6 516.8,223.6 517.3,223.6 517.8,223.6 518.3,223.6 518.8,223.6 519.3,223.6 519.8,223.6 520.3,223.6 520.8,223.6 521.3,223.6 521.8,223.6 522.3,223.6 522.8,223.6 523.3,223.6 523.8,223.6 524.3,223.6 524.8,223.6 525.3,223.6 525.8,223.6 526.3,223.6 526.8,223.6 527.3,223.6 527.8,223.6 528.3,223.6 528.8,223.6 529.3,223.6 529.8,223.6 530.3,223.6 530.8,223.6 531.3,223.6 531.8,223.6 532.3,223.6 532.8,223.6 533.3,223.6 533.8,223.6 534.3,223.6 534.3,304.5 325.7,304.5" fill="#b6babf"/>
<line x1="345.85" y1="186.5" x2="345.85" y2="304.5" class="g"/>
<line x1="366.00" y1="186.5" x2="366.00" y2="304.5" class="g"/>
<line x1="386.15" y1="186.5" x2="386.15" y2="304.5" class="g"/>
<line x1="406.30" y1="186.5" x2="406.30" y2="304.5" class="g"/>
<line x1="426.45" y1="186.5" x2="426.45" y2="304.5" class="g"/>
<line x1="446.60" y1="186.5" x2="446.60" y2="304.5" class="g"/>
<line x1="466.75" y1="186.5" x2="466.75" y2="304.5" class="g"/>
<line x1="486.90" y1="186.5" x2="486.90" y2="304.5" class="g"/>
<line x1="507.05" y1="186.5" x2="507.05" y2="304.5" class="g"/>
<line x1="527.20" y1="186.5" x2="527.20" y2="304.5" class="g"/>
<line x1="325.5" y1="287.73" x2="539.5" y2="287.73" class="g"/>
<line x1="325.5" y1="270.86" x2="539.5" y2="270.86" class="g"/>
<line x1="325.5" y1="253.99" x2="539.5" y2="253.99" class="g"/>
<line x1="325.5" y1="237.11" x2="539.5" y2="237.11" class="g"/>
<line x1="325.5" y1="220.24" x2="539.5" y2="220.24" class="g"/>
<line x1="325.5" y1="203.37" x2="539.5" y2="203.37" class="g"/>
<polyline points="325.7,304.4 329.1,302.4 333.0,299.7 335.6,295.8 338.3,291.9 340.3,289.3 342.4,289.6 344.8,285.4 347.4,282.3 350.0,278.9 352.6,276.3 355.2,273.7 359.1,269.8 363.0,266.6 365.6,265.1 369.5,263.5 372.2,262.5 376.1,260.6 378.7,259.3 382.6,257.5 385.2,256.7 389.1,255.9 391.7,254.1 394.3,251.5 396.1,250.2 399.5,249.4 402.1,248.4 404.7,248.1 408.7,247.6 411.3,246.8 413.9,245.5 416.5,243.7 419.1,242.4 421.7,241.1 424.3,239.8 454.8,240.0 457.4,239.5 466.5,238.9 471.7,234.8 478.2,229.5 484.8,226.4 492.6,222.2 500.4,215.2 508.2,211.3 516.0,206.1 522.6,200.9 526.5,199.5 534.3,199.5" fill="none" stroke="#d8aa86" stroke-width="0.7"/>
<polyline points="325.7,304.4 329.1,303.1 333.0,300.5 335.6,298.4 338.3,296.4 340.9,293.2 343.5,290.6 346.1,286.7 348.7,283.3 351.3,280.2 355.2,275.5 359.1,271.1 363.0,266.6 365.6,264.5 369.5,261.9 372.2,260.6 374.8,259.3 377.4,258.0 381.3,257.2 385.2,256.7 411.3,256.7 415.2,255.9 419.1,255.4 423.0,254.9 426.9,254.6 430.0,254.3 437.8,249.1 445.6,244.7 453.5,240.0 461.3,236.1 469.1,229.5 475.6,223.6 534.3,223.6" fill="none" stroke="#8fa6c6" stroke-width="0.6"/>
<path d="M325.5 186.5H539.5V304.5" fill="none" stroke="#9c9c9c" stroke-width="0.8"/><path d="M325.5 186.5V304.5H539.5" fill="none" stroke="#727272" stroke-width="0.8"/>
<text transform="translate(299.50 182.20) scale(0.88 1)" font-size="6.7" text-anchor="start" font-weight="normal" >Number of people passing</text>
<text transform="translate(320.60 306.20) scale(0.88 1)" font-size="5.23" text-anchor="end" font-weight="normal" >0</text>
<text transform="translate(320.60 289.33) scale(0.88 1)" font-size="5.23" text-anchor="end" font-weight="normal" >50</text>
<text transform="translate(320.60 272.46) scale(0.88 1)" font-size="5.23" text-anchor="end" font-weight="normal" >100</text>
<text transform="translate(320.60 255.59) scale(0.88 1)" font-size="5.23" text-anchor="end" font-weight="normal" >150</text>
<text transform="translate(320.60 238.71) scale(0.88 1)" font-size="5.23" text-anchor="end" font-weight="normal" >200</text>
<text transform="translate(320.60 221.84) scale(0.88 1)" font-size="5.23" text-anchor="end" font-weight="normal" >250</text>
<text transform="translate(320.60 204.97) scale(0.88 1)" font-size="5.23" text-anchor="end" font-weight="normal" >300</text>
<text transform="translate(320.60 188.10) scale(0.88 1)" font-size="5.23" text-anchor="end" font-weight="normal" >350</text>
<text transform="translate(325.90 312.50) scale(0.88 1)" font-size="5.23" text-anchor="middle" font-weight="normal" >0</text>
<text transform="translate(346.05 312.50) scale(0.88 1)" font-size="5.23" text-anchor="middle" font-weight="normal" >50</text>
<text transform="translate(366.20 312.50) scale(0.88 1)" font-size="5.23" text-anchor="middle" font-weight="normal" >100</text>
<text transform="translate(386.35 312.50) scale(0.88 1)" font-size="5.23" text-anchor="middle" font-weight="normal" >150</text>
<text transform="translate(406.50 312.50) scale(0.88 1)" font-size="5.23" text-anchor="middle" font-weight="normal" >200</text>
<text transform="translate(426.65 312.50) scale(0.88 1)" font-size="5.23" text-anchor="middle" font-weight="normal" >250</text>
<text transform="translate(446.80 312.50) scale(0.88 1)" font-size="5.23" text-anchor="middle" font-weight="normal" >300</text>
<text transform="translate(466.95 312.50) scale(0.88 1)" font-size="5.23" text-anchor="middle" font-weight="normal" >350</text>
<text transform="translate(487.10 312.50) scale(0.88 1)" font-size="5.23" text-anchor="middle" font-weight="normal" >400</text>
<text transform="translate(507.25 312.50) scale(0.88 1)" font-size="5.23" text-anchor="middle" font-weight="normal" >450</text>
<text transform="translate(527.40 312.50) scale(0.88 1)" font-size="5.23" text-anchor="middle" font-weight="normal" >500</text>
<text transform="translate(535.00 312.60) scale(0.88 1)" font-size="6.7" text-anchor="start" font-weight="normal" >Time</text>
<line x1="327.3" y1="317.6" x2="330.3" y2="317.6" stroke="#8cc0fa" stroke-width="0.7"/>
<text transform="translate(335.20 319.50) scale(0.88 1)" font-size="6.67" text-anchor="start" font-weight="normal" >Number of people passing by No.1 stair entrance on the 4nd floor</text>
<line x1="327.3" y1="326.9" x2="330.3" y2="326.9" stroke="#f2c4a2" stroke-width="0.7"/>
<text transform="translate(335.20 328.80) scale(0.88 1)" font-size="6.67" text-anchor="start" font-weight="normal" >Number of people passing by No.2 stair entrance on the 4nd floor</text>
<text x="423.30" y="347.00" font-size="11" text-anchor="middle" font-weight="bold" >(d)</text>
</svg>
</body>
</html>
